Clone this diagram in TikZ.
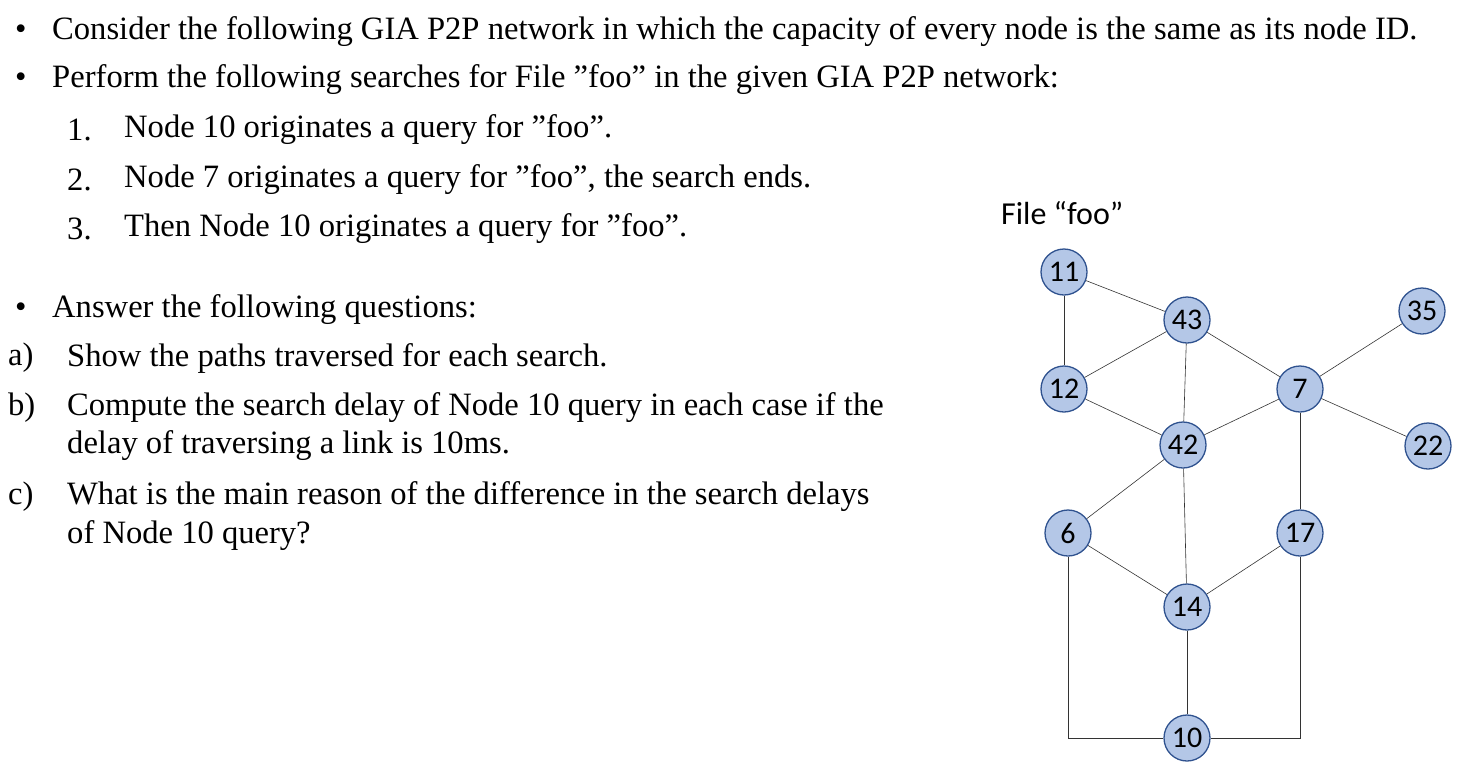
\documentclass[tikz,border=0pt]{standalone}
\usepackage{fontspec}
\setmainfont{Liberation Serif}
\newfontfamily\sansf{Carlito}
\newcommand\qq{\symbol{34}}
\begin{document}
\begin{tikzpicture}[x=1pt,y=-1pt,
  t/.style={anchor=west,inner sep=0pt,font=\fontsize{32.6}{36}\selectfont},
  n/.style={circle,draw={rgb,255:red,47;green,82;blue,143},line width=1.3pt,fill={rgb,255:red,180;green,199;blue,231},minimum size=46pt,inner sep=0pt,font=\sansf\fontsize{30}{32}\selectfont},
  e/.style={draw=black!80,line width=0.6pt}]
\useasboundingbox (0,0) rectangle (1473,769);
\node[t] (b1) at (15,32) {•};
\node[t] (l1) at (52,32) {Consider the following GIA P2P network in which the capacity of every node is the same as its node ID.};
\node[t] (b2) at (15,80) {•};
\node[t] (l2) at (52,80) {Perform the following searches for File \qq foo\qq\ in the given GIA P2P network:};
\node[t] (n1) at (67,130) {1.};
\node[t] (l3) at (124,130) {Node 10 originates a query for \qq foo\qq.};
\node[t] (n2) at (67,180) {2.};
\node[t] (l4) at (124,180) {Node 7 originates a query for \qq foo\qq, the search ends.};
\node[t] (n3) at (67,229) {3.};
\node[t] (l5) at (124,229) {Then Node 10 originates a query for \qq foo\qq.};
\node[t] (b3) at (15,310) {•};
\node[t] (l6) at (52,310) {Answer the following questions:};
\node[t] (qa) at (8,358) {a)};
\node[t] (la) at (67,358) {Show the paths traversed for each search.};
\node[t] (qb) at (8,408) {b)};
\node[t] (lb1) at (67,408) {Compute the search delay of Node 10 query in each case if the};
\node[t] (lb2) at (67,446) {delay of traversing a link is 10ms.};
\node[t] (qc) at (8,497) {c)};
\node[t] (lc1) at (67,497) {What is the main reason of the difference in the search delays};
\node[t] (lc2) at (67,536) {of Node 10 query?};
\node[anchor=west,inner sep=0pt,font=\sansf\fontsize{32}{36}\selectfont] (ff) at (1001,213) {File “foo”};
\node[n] (v11) at (1064,272) {11};
\node[n] (v43) at (1187,320) {43};
\node[n] (v35) at (1422,311) {35};
\node[n] (v12) at (1064,389) {12};
\node[n] (v7) at (1300,389) {7};
\node[n] (v42) at (1183,445) {42};
\node[n] (v22) at (1428,446) {22};
\node[n] (v6) at (1068,533) {6};
\node[n] (v17) at (1300,533) {17};
\node[n] (v14) at (1187,607) {14};
\node[n] (v10) at (1187,738) {10};
\coordinate (c6) at (1068,738);
\coordinate (c17) at (1300,738);
\draw[e] (v11)--(v43);
\draw[e] (v11)--(v12);
\draw[e] (v12)--(v43);
\draw[e] (v12)--(v42);
\draw[e] (v43)--(v42);
\draw[e] (v43)--(v7);
\draw[e] (v7)--(v35);
\draw[e] (v7)--(v22);
\draw[e] (v7)--(v42);
\draw[e] (v7)--(v17);
\draw[e] (v42)--(v6);
\draw[e] (v42)--(v14);
\draw[e] (v6)--(v14);
\draw[e] (v17)--(v14);
\draw[e] (v14)--(v10);
\draw[e] (v6)--(c6)--(v10);
\draw[e] (v17)--(c17)--(v10);
\end{tikzpicture}
\end{document}
